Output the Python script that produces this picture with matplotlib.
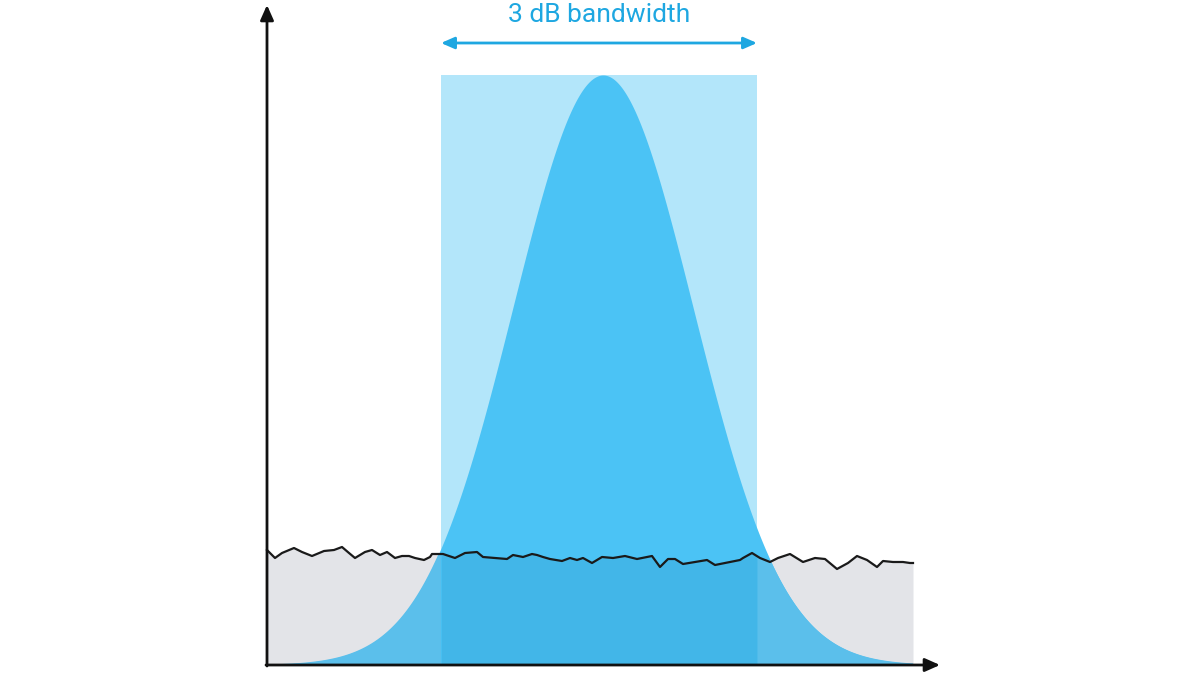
import numpy as np
import matplotlib
matplotlib.use("Agg")
import matplotlib.pyplot as plt

# ---- data (frequency offset from axis origin, power above baseline; arbitrary units) ----
noise_freq = [0, 8, 15, 27, 35, 45, 57, 67, 75, 82, 88, 98, 105, 113, 120, 128, 135, 142,
              148, 157, 163, 165, 176, 188, 198, 210, 216, 240, 246, 256, 265, 270, 276,
              283, 295, 303, 310, 316, 325, 335, 346, 358, 370, 385, 393, 401, 408, 416,
              428, 440, 448, 463, 473, 476, 485, 493, 503, 511, 523, 536, 548, 558, 570,
              581, 590, 600, 610, 616, 626, 636, 643, 646]
noise_power = [115, 107, 112, 117, 113, 109, 114, 115, 118, 112, 107, 113, 115, 110, 113,
               107, 109, 109, 107, 105, 108, 111, 111, 107, 112, 113, 108, 106, 110, 108,
               111, 110, 108, 106, 104, 107, 105, 107, 102, 108, 107, 109, 106, 109, 98,
               106, 106, 101, 103, 105, 100, 103, 105, 107, 112, 107, 103, 107, 111, 103,
               107, 106, 96, 102, 109, 105, 98, 104, 103, 103, 102, 102]

peak_center = 336      # centre frequency
peak_sigma = 90        # width of the response
peak_height = 590      # peak power
band_low, band_high = 174, 490   # 3 dB bandwidth edges
x_axis_end, y_axis_end = 673, 660

title = "3 dB bandwidth"

# ---- colours ----
c_rect = "#b3e6fa"
c_gauss = "#4bc3f5"
c_gauss_grey_out = "#5bbfeb"
c_gauss_grey_in = "#42b6e8"
c_grey = "#e3e4e8"
c_text = "#1ea7e1"

fig = plt.figure(figsize=(12, 6.75), dpi=100)
ax = fig.add_axes([0, 0, 1, 1])
ax.set_xlim(-267, 933)
ax.set_ylim(-10, 665)
ax.axis("off")

nf = np.array(noise_freq, float)
npow = np.array(noise_power, float)

# grey noise floor
ax.fill_between(nf, 0, npow, color=c_grey, lw=0, zorder=1)

# 3 dB band rectangle
ax.fill_between([band_low, band_high], 0, peak_height, color=c_rect, lw=0, zorder=2)

# gaussian response
xg = np.linspace(0, x_axis_end - 10, 3000)
g = peak_height * np.exp(-0.5 * ((xg - peak_center) / peak_sigma) ** 2)
ax.fill_between(xg, 0, g, color=c_gauss, lw=0, zorder=3)

# overlap of response and noise floor
n_on_g = np.interp(xg, nf, npow, left=0, right=0)
low = np.minimum(g, n_on_g)
inside = (xg >= band_low) & (xg <= band_high)
ax.fill_between(xg, 0, low, where=~inside, color=c_gauss_grey_out, lw=0, zorder=4)
ax.fill_between(xg, 0, low, where=inside, color=c_gauss_grey_in, lw=0, zorder=4)

# noise trace
ax.plot(nf, npow, color="#1a1a1a", lw=1.6, zorder=6, solid_joinstyle="round")

# axes with arrows
ax.annotate("", xy=(0, y_axis_end), xytext=(0, -1),
            arrowprops=dict(arrowstyle="-|>,head_length=0.9,head_width=0.4",
                            color="#111111", lw=2, shrinkA=0, shrinkB=0), zorder=7)
ax.annotate("", xy=(x_axis_end, 0), xytext=(-1, 0),
            arrowprops=dict(arrowstyle="-|>,head_length=0.9,head_width=0.4",
                            color="#111111", lw=2, shrinkA=0, shrinkB=0), zorder=7)

# bandwidth arrow and title
ax.annotate("", xy=(band_low, 622), xytext=(band_high, 622),
            arrowprops=dict(arrowstyle="<|-|>,head_length=0.8,head_width=0.35",
                            color=c_text, lw=2, shrinkA=0, shrinkB=0), zorder=7)
ax.text((band_low + band_high) / 2, 650, title, ha="center", va="center",
        color=c_text, fontsize=19, family=["Roboto", "DejaVu Sans"])

fig.savefig("out.png", dpi=100)
